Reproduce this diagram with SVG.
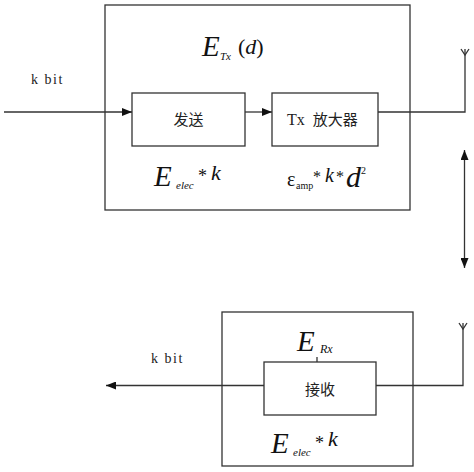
<svg xmlns="http://www.w3.org/2000/svg" width="474" height="472" viewBox="0 0 474 472">
<style>
.box{fill:none;stroke:#333;stroke-width:1.3}
.ln{fill:none;stroke:#333;stroke-width:1.3}
.cn{font-family:"Noto Sans CJK SC",sans-serif;font-size:15px;fill:#222}
.lat{font-family:"Liberation Serif","Noto Sans CJK SC",serif;font-size:14px;fill:#222}
.m{font-family:"Liberation Serif",serif;font-style:italic;fill:#111}
.r{font-family:"Liberation Serif",serif;fill:#111}
</style>
<defs>
<marker id="ah" viewBox="0 0 10 8" refX="10" refY="4" markerWidth="10" markerHeight="8" markerUnits="userSpaceOnUse" orient="auto-start-reverse">
<path d="M0,0 L10,4 L0,8 Z" fill="#111"/>
</marker>
</defs>
<rect width="474" height="472" fill="#fff"/>

<g id="tx-module">
<rect class="box" x="105" y="5" width="305" height="205"/>
<text class="m" x="202" y="56" font-size="29">E</text>
<text class="m" x="220" y="60" font-size="11">Tx</text>
<text class="r" x="238" y="54" font-size="22">(<tspan font-style="italic">d</tspan>)</text>
<text class="m" x="154" y="186" font-size="29">E</text>
<text class="m" x="176" y="189" font-size="11">elec</text>
<text class="r" x="198" y="182" font-size="18">*</text>
<text class="m" x="211" y="180" font-size="22">k</text>
<text class="r" x="287" y="186" font-size="20">ε</text>
<text class="r" x="296" y="189" font-size="10">amp</text>
<text class="r" x="313" y="182" font-size="16">*</text>
<text class="m" x="325" y="182" font-size="20">k</text>
<text class="r" x="336" y="182" font-size="16">*</text>
<text class="m" x="346" y="187" font-size="30">d</text>
<text class="r" x="361" y="174" font-size="10">2</text>
</g>

<g id="send">
<rect class="box" x="132" y="93" width="113" height="53"/>
<text class="cn" x="188.5" y="125" text-anchor="middle">发送</text>
</g>

<g id="tx-amp">
<rect class="box" x="272" y="93" width="106" height="53"/>
<text class="cn" x="287" y="125"><tspan font-family="Liberation Serif" font-size="16">Tx</tspan><tspan dx="8">放大器</tspan></text>
</g>

<g id="rx-module">
<rect class="box" x="222" y="312" width="191" height="154"/>
<text class="m" x="297" y="351" font-size="29">E</text>
<text class="m" x="320" y="353" font-size="12">Rx</text>
<text class="m" x="271" y="453" font-size="29">E</text>
<text class="m" x="293" y="456" font-size="11">elec</text>
<text class="r" x="315" y="449" font-size="18">*</text>
<text class="m" x="328" y="446" font-size="22">k</text>
</g>

<g id="receive">
<rect class="box" x="264" y="362" width="112" height="53"/>
<text class="cn" x="320" y="395" text-anchor="middle">接收</text>
</g>

<g id="tx-antenna">
<path class="ln" d="M461,49 L465,55 L469,49"/>
</g>
<g id="rx-antenna">
<path class="ln" d="M459,323 L463,329 L467,323"/>
</g>

<g id="connectors">
<line class="ln" x1="4" y1="112" x2="132" y2="112" marker-end="url(#ah)"/>
<line class="ln" x1="245" y1="112" x2="272" y2="112" marker-end="url(#ah)"/>
<polyline class="ln" points="378,112 465,112 465,49"/>
<line class="ln" x1="464.5" y1="150" x2="464.5" y2="268" marker-start="url(#ah)" marker-end="url(#ah)"/>
<line class="ln" x1="264" y1="385.5" x2="106" y2="385.5" marker-end="url(#ah)"/>
<polyline class="ln" points="376,385.5 463,385.5 463,323"/>
<line class="ln" x1="317" y1="357" x2="317" y2="362" stroke-width="0.8"/>
<text class="lat" x="31" y="84" letter-spacing="1.5">k bit</text>
<text class="lat" x="151" y="363" letter-spacing="1.5">k bit</text>
</g>
</svg>
